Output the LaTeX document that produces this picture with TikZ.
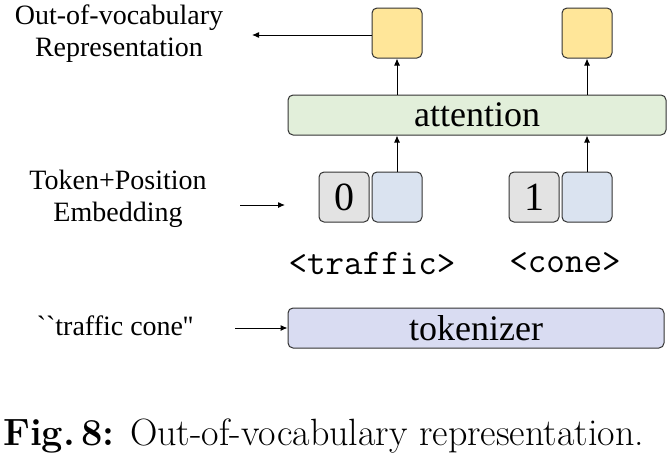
\documentclass[tikz,border=0pt]{standalone}
\usepackage{fontspec}
\newfontfamily\tms{Liberation Serif}
\usetikzlibrary{arrows.meta}
\definecolor{yel}{HTML}{FFE699}
\definecolor{grn}{HTML}{E2EFDA}
\definecolor{blu}{HTML}{DAE3F0}
\definecolor{lav}{HTML}{D9DCF2}
\definecolor{gry}{HTML}{E3E3E3}
\begin{document}
\begin{tikzpicture}[x=1pt,y=-1pt,
 box/.style={draw=black!80,line width=1pt,rounded corners=5pt,inner sep=0pt},
 ybox/.style={box,fill=yel,minimum width=50pt,minimum height=50pt},
 gbox/.style={box,fill=gry,minimum width=50pt,minimum height=50pt,font=\tms\fontsize{40}{44}\selectfont},
 bbox/.style={box,fill=blu,minimum width=50pt,minimum height=50pt},
 arr/.style={-{Latex[length=7pt,width=6pt]},line width=1pt},
 lbl/.style={font=\tms\fontsize{28}{32}\selectfont,align=center}]
\useasboundingbox (0,0) rectangle (672,463);
\node[ybox] (y1) at (397,33) {};
\node[ybox] (y2) at (587,33) {};
\node[box,fill=grn,minimum width=378pt,minimum height=40pt,font=\tms\fontsize{36}{40}\selectfont] (att) at (477,115) {attention};
\node[gbox] (g0) at (344,197) {0};
\node[bbox] (b0) at (397,197) {};
\node[gbox] (g1) at (534,197) {1};
\node[bbox] (b1) at (587,197) {};
\node[font=\ttfamily\fontsize{36}{40}\selectfont] (t1) at (372,263) {<traffic>};
\node[font=\ttfamily\fontsize{36}{40}\selectfont] (t2) at (565,263) {<cone>};
\node[box,fill=lav,minimum width=376pt,minimum height=40pt,font=\tms\fontsize{36}{40}\selectfont] (tok) at (476,328) {tokenizer};
\node[lbl] (ov) at (119,34) {Out-of-vocabulary\\Representation};
\node[lbl] (te) at (118,199) {Token+Position\\Embedding};
\node[lbl] (tc) at (115,326) {``traffic cone''};
\coordinate (ovl) at (252,35);
\coordinate (tea) at (240,205);
\coordinate (tcb) at (235,328);
\draw[arr] (att.north -| y1) -- (y1.south);
\draw[arr] (att.north -| y2) -- (y2.south);
\draw[arr] (b0.north) -- (att.south -| b0);
\draw[arr] (b1.north) -- (att.south -| b1);
\draw[arr] (y1.west |- ovl) -- (ovl);
\draw[arr] (tea) -- (285,205);
\draw[arr] (tcb) -- (tok.west);
\node[font=\fontsize{38}{42}\selectfont,anchor=west,inner sep=0pt] (cap) at (3,436) {\textbf{Fig.\,8:} Out-of-vocabulary representation.};
\end{tikzpicture}
\end{document}
